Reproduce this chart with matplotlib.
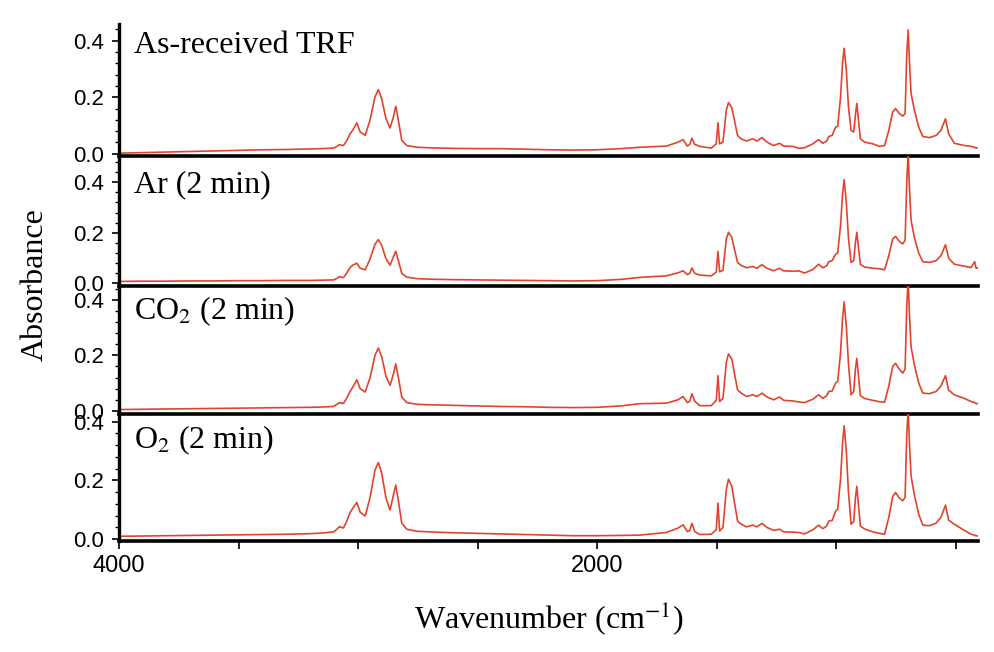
import numpy as np
import matplotlib
matplotlib.use("Agg")
import matplotlib.pyplot as plt
from matplotlib.ticker import AutoMinorLocator

plt.rcParams["mathtext.fontset"] = "stix"

# FTIR spectra (wavenumber in cm-1, absorbance)
wavenumber = [4000, 3900, 3800, 3700, 3600, 3500, 3400, 3300, 3200, 3150,
              3103, 3088, 3078, 3068, 3061, 3048, 3033, 3022, 3005, 2991,
              2970, 2950, 2929, 2915, 2901, 2883, 2866, 2852, 2842, 2831,
              2817, 2796, 2754, 2700, 2600, 2500, 2400, 2300, 2200, 2100,
              2000, 1900, 1821, 1710, 1661, 1640, 1622, 1612, 1603, 1591,
              1570, 1522, 1501, 1494, 1487, 1473, 1459, 1450, 1436, 1425,
              1412, 1398, 1375, 1348, 1331, 1310, 1289, 1261, 1236, 1219,
              1180, 1155, 1132, 1097, 1073, 1055, 1039, 1030, 1016, 1002,
              993, 981, 973, 966, 957, 948, 937, 926, 919, 913,
              906, 898, 881, 846, 818, 797, 779, 763, 751, 735,
              721, 711, 704, 698, 693, 686, 672, 654, 637, 609,
              581, 561, 542, 529, 505, 463, 435, 420, 414, 406]

abs_received = [0.002, 0.004, 0.006, 0.008, 0.010, 0.012, 0.014, 0.015, 0.017, 0.018,
                0.020, 0.026, 0.032, 0.030, 0.029, 0.045, 0.071, 0.083, 0.109, 0.077,
                0.065, 0.118, 0.201, 0.227, 0.195, 0.124, 0.091, 0.130, 0.168, 0.118,
                0.047, 0.029, 0.023, 0.021, 0.019, 0.018, 0.018, 0.016, 0.014, 0.013,
                0.014, 0.018, 0.023, 0.027, 0.041, 0.050, 0.027, 0.033, 0.055, 0.033,
                0.026, 0.020, 0.035, 0.110, 0.035, 0.041, 0.154, 0.181, 0.163, 0.118,
                0.065, 0.053, 0.045, 0.053, 0.045, 0.057, 0.041, 0.029, 0.037, 0.027,
                0.026, 0.019, 0.021, 0.035, 0.050, 0.037, 0.045, 0.061, 0.065, 0.094,
                0.097, 0.201, 0.319, 0.373, 0.296, 0.166, 0.083, 0.077, 0.136, 0.178,
                0.118, 0.053, 0.041, 0.035, 0.026, 0.029, 0.083, 0.148, 0.160, 0.142,
                0.133, 0.142, 0.355, 0.438, 0.331, 0.213, 0.154, 0.094, 0.061, 0.057,
                0.065, 0.083, 0.124, 0.071, 0.037, 0.029, 0.026, 0.023, 0.020, 0.022]

abs_ar = [0.008, 0.009, 0.009, 0.010, 0.010, 0.011, 0.011, 0.012, 0.012, 0.013,
          0.014, 0.020, 0.027, 0.024, 0.023, 0.040, 0.063, 0.072, 0.080, 0.060,
          0.054, 0.095, 0.155, 0.173, 0.150, 0.098, 0.072, 0.105, 0.127, 0.090,
          0.040, 0.025, 0.019, 0.017, 0.015, 0.014, 0.013, 0.012, 0.011, 0.010,
          0.011, 0.016, 0.024, 0.030, 0.042, 0.050, 0.035, 0.040, 0.061, 0.040,
          0.033, 0.030, 0.045, 0.127, 0.046, 0.052, 0.175, 0.202, 0.182, 0.135,
          0.083, 0.072, 0.062, 0.067, 0.060, 0.074, 0.060, 0.050, 0.060, 0.050,
          0.048, 0.050, 0.041, 0.055, 0.076, 0.062, 0.070, 0.086, 0.090, 0.115,
          0.120, 0.230, 0.350, 0.410, 0.320, 0.180, 0.083, 0.090, 0.160, 0.202,
          0.140, 0.075, 0.065, 0.060, 0.058, 0.054, 0.110, 0.175, 0.186, 0.166,
          0.156, 0.170, 0.400, 0.520, 0.380, 0.250, 0.180, 0.120, 0.086, 0.083,
          0.090, 0.110, 0.153, 0.100, 0.076, 0.068, 0.063, 0.086, 0.060, 0.062]

abs_co2 = [0.005, 0.006, 0.007, 0.008, 0.009, 0.010, 0.011, 0.012, 0.013, 0.014,
           0.016, 0.024, 0.030, 0.028, 0.027, 0.045, 0.070, 0.085, 0.112, 0.080,
           0.068, 0.118, 0.200, 0.226, 0.195, 0.125, 0.092, 0.132, 0.169, 0.120,
           0.050, 0.030, 0.024, 0.022, 0.020, 0.018, 0.016, 0.015, 0.013, 0.012,
           0.013, 0.018, 0.026, 0.028, 0.040, 0.052, 0.030, 0.035, 0.062, 0.035,
           0.019, 0.019, 0.038, 0.127, 0.034, 0.045, 0.175, 0.205, 0.186, 0.135,
           0.076, 0.065, 0.052, 0.058, 0.052, 0.064, 0.050, 0.040, 0.050, 0.038,
           0.036, 0.032, 0.030, 0.042, 0.058, 0.045, 0.055, 0.070, 0.072, 0.100,
           0.106, 0.210, 0.330, 0.392, 0.305, 0.170, 0.058, 0.070, 0.150, 0.189,
           0.125, 0.055, 0.045, 0.038, 0.033, 0.031, 0.090, 0.160, 0.171, 0.150,
           0.136, 0.150, 0.380, 0.470, 0.350, 0.230, 0.165, 0.100, 0.064, 0.062,
           0.070, 0.090, 0.127, 0.075, 0.058, 0.045, 0.034, 0.030, 0.026, 0.027]

abs_o2 = [0.010, 0.011, 0.012, 0.013, 0.014, 0.015, 0.016, 0.017, 0.019, 0.021,
          0.025, 0.034, 0.043, 0.040, 0.038, 0.060, 0.091, 0.105, 0.125, 0.092,
          0.079, 0.140, 0.235, 0.261, 0.225, 0.140, 0.099, 0.150, 0.184, 0.130,
          0.055, 0.034, 0.027, 0.025, 0.022, 0.020, 0.018, 0.016, 0.014, 0.012,
          0.012, 0.013, 0.014, 0.023, 0.038, 0.049, 0.026, 0.030, 0.054, 0.026,
          0.016, 0.017, 0.032, 0.123, 0.028, 0.040, 0.170, 0.204, 0.180, 0.125,
          0.062, 0.052, 0.042, 0.048, 0.042, 0.054, 0.040, 0.030, 0.034, 0.025,
          0.024, 0.023, 0.018, 0.032, 0.048, 0.036, 0.045, 0.062, 0.064, 0.095,
          0.102, 0.205, 0.325, 0.386, 0.300, 0.160, 0.051, 0.060, 0.140, 0.180,
          0.115, 0.045, 0.035, 0.025, 0.020, 0.017, 0.075, 0.145, 0.159, 0.140,
          0.131, 0.142, 0.360, 0.440, 0.330, 0.215, 0.150, 0.085, 0.048, 0.046,
          0.055, 0.075, 0.116, 0.065, 0.051, 0.030, 0.017, 0.014, 0.011, 0.012]

spectra = [abs_received, abs_ar, abs_co2, abs_o2]
labels = ["As-received TRF", "Ar (2 min)", "CO$_2$ (2 min)", "O$_2$ (2 min)"]
ylims = [(-0.008, 0.459), (-0.010, 0.503), (-0.011, 0.449), (-0.006, 0.426)]
label_y = [0.84, 0.78, 0.80, 0.79]

xticks = [4000, 3500, 3000, 2500, 2000, 1500, 1000, 500]
xticklabels = ["4000", "", "", "", "2000", "", "", ""]

# panel edges in pixels (top, bottom)
W, H = 994, 652
panels_px = [(24, 156), (156, 286), (286, 414), (414, 541)]
left_px, right_px = 119, 978

serif = ["Liberation Serif", "DejaVu Serif"]
sans = ["Liberation Sans", "DejaVu Sans"]

fig = plt.figure(figsize=(W / 100, H / 100), dpi=100)
axes = []
for i, (top, bot) in enumerate(panels_px):
    ax = fig.add_axes([left_px / W, 1 - bot / H, (right_px - left_px) / W, (bot - top) / H])
    ax.plot(wavenumber, spectra[i], color="#e2432c", lw=1.2)
    ax.set_xlim(4000, 406)
    ax.set_ylim(*ylims[i])
    ax.set_yticks([0.0, 0.2, 0.4])
    ax.set_yticklabels(["0.0", "0.2", "0.4"], fontfamily=sans, fontsize=16)
    ax.yaxis.set_minor_locator(AutoMinorLocator(5))
    ax.tick_params(axis="y", which="major", direction="out", length=5, width=1.2, pad=6)
    ax.tick_params(axis="y", which="minor", direction="out", length=3, width=1.0)
    for s in ["top", "right"]:
        ax.spines[s].set_visible(False)
    ax.spines["left"].set_linewidth(2.4)
    ax.spines["bottom"].set_linewidth(2.6)
    ax.patch.set_alpha(0)
    ax.text(0.018, label_y[i], labels[i], transform=ax.transAxes, va="center",
            ha="left", fontfamily=serif, fontsize=23)
    if i < 3:
        ax.set_xticks([])
    else:
        ax.set_xticks(xticks)
        ax.set_xticklabels(xticklabels, fontfamily=sans, fontsize=17)
        ax.tick_params(axis="x", direction="out", length=6, width=1.2, pad=4)
    axes.append(ax)

axes[3].set_xlabel("Wavenumber (cm$^{-1}$)", fontfamily=serif, fontsize=23, labelpad=16)
fig.text(35 / W, 1 - 285 / H, "Absorbance", rotation=90, va="center", ha="center",
         fontfamily=serif, fontsize=23)

fig.savefig("out.png", dpi=100)
